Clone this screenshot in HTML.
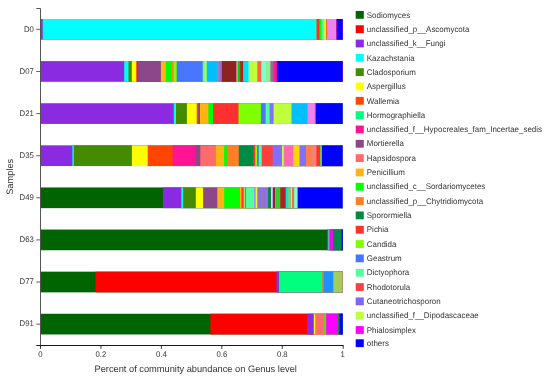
<!DOCTYPE html><html><head><meta charset="utf-8"><title>Community barplot</title><style>html,body{margin:0;padding:0;background:#fff}svg{display:block}text{text-rendering:geometricPrecision;font-family:"Liberation Sans",Arial,sans-serif;fill:#333333}</style></head><body>
<svg width="550" height="381" viewBox="0 0 550 381">
<rect width="550" height="381" fill="#fff"/>
<rect x="40.50" y="19.00" width="302.20" height="20.70" fill="#8A2BE2"/>
<rect x="42.70" y="19.00" width="300.00" height="20.70" fill="#00FFFF"/>
<rect x="316.40" y="19.00" width="26.30" height="20.70" fill="#FF4500"/>
<rect x="317.00" y="19.00" width="25.70" height="20.70" fill="#FF3030"/>
<rect x="319.50" y="19.00" width="23.20" height="20.70" fill="#00FF00"/>
<rect x="321.60" y="19.00" width="21.10" height="20.70" fill="#54FF9F"/>
<rect x="323.90" y="19.00" width="18.80" height="20.70" fill="#C0FF3E"/>
<rect x="326.20" y="19.00" width="16.50" height="20.70" fill="#FF4500"/>
<rect x="326.90" y="19.00" width="15.80" height="20.70" fill="#EE82EE"/>
<rect x="336.10" y="19.00" width="6.60" height="20.70" fill="#FF1493"/>
<rect x="336.70" y="19.00" width="6.00" height="20.70" fill="#0000FF"/>
<rect x="40.50" y="61.11" width="302.20" height="20.70" fill="#8A2BE2"/>
<rect x="124.20" y="61.11" width="218.50" height="20.70" fill="#00FFFF"/>
<rect x="128.50" y="61.11" width="214.20" height="20.70" fill="#458B00"/>
<rect x="131.80" y="61.11" width="210.90" height="20.70" fill="#FFFF00"/>
<rect x="136.40" y="61.11" width="206.30" height="20.70" fill="#FF0000"/>
<rect x="137.50" y="61.11" width="205.20" height="20.70" fill="#8B4789"/>
<rect x="160.90" y="61.11" width="181.80" height="20.70" fill="#FFB414"/>
<rect x="165.80" y="61.11" width="176.90" height="20.70" fill="#00FF00"/>
<rect x="171.50" y="61.11" width="171.20" height="20.70" fill="#FF7F24"/>
<rect x="173.60" y="61.11" width="169.10" height="20.70" fill="#7FFF00"/>
<rect x="176.70" y="61.11" width="166.00" height="20.70" fill="#4876FF"/>
<rect x="202.70" y="61.11" width="140.00" height="20.70" fill="#54FF9F"/>
<rect x="204.50" y="61.11" width="138.20" height="20.70" fill="#C0FF3E"/>
<rect x="206.70" y="61.11" width="136.00" height="20.70" fill="#00BFFF"/>
<rect x="216.90" y="61.11" width="125.80" height="20.70" fill="#B080B0"/>
<rect x="218.70" y="61.11" width="124.00" height="20.70" fill="#9370DB"/>
<rect x="221.80" y="61.11" width="120.90" height="20.70" fill="#8B2323"/>
<rect x="236.40" y="61.11" width="106.30" height="20.70" fill="#FFB6C1"/>
<rect x="237.60" y="61.11" width="105.10" height="20.70" fill="#00CD00"/>
<rect x="240.20" y="61.11" width="102.50" height="20.70" fill="#B22222"/>
<rect x="243.10" y="61.11" width="99.60" height="20.70" fill="#00E5EE"/>
<rect x="248.50" y="61.11" width="94.20" height="20.70" fill="#7FFFD4"/>
<rect x="249.60" y="61.11" width="93.10" height="20.70" fill="#C0FF3E"/>
<rect x="257.30" y="61.11" width="85.40" height="20.70" fill="#FF6347"/>
<rect x="261.30" y="61.11" width="81.40" height="20.70" fill="#7FFFD4"/>
<rect x="266.00" y="61.11" width="76.70" height="20.70" fill="#90EE90"/>
<rect x="270.40" y="61.11" width="72.30" height="20.70" fill="#9A6A9A"/>
<rect x="273.60" y="61.11" width="69.10" height="20.70" fill="#FF1493"/>
<rect x="276.90" y="61.11" width="65.80" height="20.70" fill="#0000FF"/>
<rect x="40.50" y="103.22" width="302.20" height="20.70" fill="#8A2BE2"/>
<rect x="173.80" y="103.22" width="168.90" height="20.70" fill="#00FFFF"/>
<rect x="176.00" y="103.22" width="166.70" height="20.70" fill="#458B00"/>
<rect x="186.90" y="103.22" width="155.80" height="20.70" fill="#FFFF00"/>
<rect x="196.70" y="103.22" width="146.00" height="20.70" fill="#FF4500"/>
<rect x="198.20" y="103.22" width="144.50" height="20.70" fill="#8B4789"/>
<rect x="200.00" y="103.22" width="142.70" height="20.70" fill="#FFB414"/>
<rect x="208.40" y="103.22" width="134.30" height="20.70" fill="#00FF00"/>
<rect x="213.10" y="103.22" width="129.60" height="20.70" fill="#FF3030"/>
<rect x="238.50" y="103.22" width="104.20" height="20.70" fill="#7FFF00"/>
<rect x="260.90" y="103.22" width="81.80" height="20.70" fill="#4876FF"/>
<rect x="265.60" y="103.22" width="77.10" height="20.70" fill="#54FF9F"/>
<rect x="269.60" y="103.22" width="73.10" height="20.70" fill="#836FFF"/>
<rect x="273.60" y="103.22" width="69.10" height="20.70" fill="#C0FF3E"/>
<rect x="291.50" y="103.22" width="51.20" height="20.70" fill="#00BFFF"/>
<rect x="307.50" y="103.22" width="35.20" height="20.70" fill="#EE82EE"/>
<rect x="314.90" y="103.22" width="27.80" height="20.70" fill="#FF1493"/>
<rect x="315.40" y="103.22" width="27.30" height="20.70" fill="#00FF00"/>
<rect x="315.80" y="103.22" width="26.90" height="20.70" fill="#0000FF"/>
<rect x="40.50" y="145.33" width="302.20" height="20.70" fill="#8A2BE2"/>
<rect x="72.40" y="145.33" width="270.30" height="20.70" fill="#00FFFF"/>
<rect x="73.80" y="145.33" width="268.90" height="20.70" fill="#458B00"/>
<rect x="131.90" y="145.33" width="210.80" height="20.70" fill="#FFFF00"/>
<rect x="147.70" y="145.33" width="195.00" height="20.70" fill="#FF4500"/>
<rect x="172.60" y="145.33" width="170.10" height="20.70" fill="#FF1493"/>
<rect x="195.90" y="145.33" width="146.80" height="20.70" fill="#8B4789"/>
<rect x="200.30" y="145.33" width="142.40" height="20.70" fill="#FF6A6A"/>
<rect x="215.90" y="145.33" width="126.80" height="20.70" fill="#FFB414"/>
<rect x="224.10" y="145.33" width="118.60" height="20.70" fill="#00FF00"/>
<rect x="226.80" y="145.33" width="115.90" height="20.70" fill="#FF7F24"/>
<rect x="238.80" y="145.33" width="103.90" height="20.70" fill="#008B45"/>
<rect x="253.40" y="145.33" width="89.30" height="20.70" fill="#FF3030"/>
<rect x="255.20" y="145.33" width="87.50" height="20.70" fill="#7FFF00"/>
<rect x="257.00" y="145.33" width="85.70" height="20.70" fill="#4876FF"/>
<rect x="258.80" y="145.33" width="83.90" height="20.70" fill="#54FF9F"/>
<rect x="261.70" y="145.33" width="81.00" height="20.70" fill="#FF4040"/>
<rect x="272.70" y="145.33" width="70.00" height="20.70" fill="#836FFF"/>
<rect x="282.00" y="145.33" width="60.70" height="20.70" fill="#C0FF3E"/>
<rect x="283.80" y="145.33" width="58.90" height="20.70" fill="#FF69B4"/>
<rect x="293.30" y="145.33" width="49.40" height="20.70" fill="#FFD700"/>
<rect x="299.50" y="145.33" width="43.20" height="20.70" fill="#836FFF"/>
<rect x="306.00" y="145.33" width="36.70" height="20.70" fill="#FF7F50"/>
<rect x="311.50" y="145.33" width="31.20" height="20.70" fill="#FA8072"/>
<rect x="316.40" y="145.33" width="26.30" height="20.70" fill="#FF3030"/>
<rect x="320.00" y="145.33" width="22.70" height="20.70" fill="#32CD32"/>
<rect x="320.60" y="145.33" width="22.10" height="20.70" fill="#D2B48C"/>
<rect x="321.80" y="145.33" width="20.90" height="20.70" fill="#0000FF"/>
<rect x="40.50" y="187.44" width="302.20" height="20.70" fill="#006400"/>
<rect x="162.90" y="187.44" width="179.80" height="20.70" fill="#8A2BE2"/>
<rect x="181.30" y="187.44" width="161.40" height="20.70" fill="#00FFFF"/>
<rect x="183.10" y="187.44" width="159.60" height="20.70" fill="#458B00"/>
<rect x="195.80" y="187.44" width="146.90" height="20.70" fill="#FFFF00"/>
<rect x="203.10" y="187.44" width="139.60" height="20.70" fill="#8B4789"/>
<rect x="217.30" y="187.44" width="125.40" height="20.70" fill="#FFB414"/>
<rect x="224.20" y="187.44" width="118.50" height="20.70" fill="#00FF00"/>
<rect x="240.00" y="187.44" width="102.70" height="20.70" fill="#FFB414"/>
<rect x="241.50" y="187.44" width="101.20" height="20.70" fill="#FF3030"/>
<rect x="243.70" y="187.44" width="99.00" height="20.70" fill="#C0FF3E"/>
<rect x="244.80" y="187.44" width="97.90" height="20.70" fill="#4876FF"/>
<rect x="245.90" y="187.44" width="96.80" height="20.70" fill="#54FF9F"/>
<rect x="254.00" y="187.44" width="88.70" height="20.70" fill="#9A9AE8"/>
<rect x="255.70" y="187.44" width="87.00" height="20.70" fill="#E6FF20"/>
<rect x="257.30" y="187.44" width="85.40" height="20.70" fill="#9370DB"/>
<rect x="268.10" y="187.44" width="74.60" height="20.70" fill="#008B45"/>
<rect x="271.00" y="187.44" width="71.70" height="20.70" fill="#C0FF3E"/>
<rect x="272.00" y="187.44" width="70.70" height="20.70" fill="#C8A8E8"/>
<rect x="273.00" y="187.44" width="69.70" height="20.70" fill="#8B2323"/>
<rect x="275.20" y="187.44" width="67.50" height="20.70" fill="#C8A8E8"/>
<rect x="275.80" y="187.44" width="66.90" height="20.70" fill="#32CD32"/>
<rect x="280.30" y="187.44" width="62.40" height="20.70" fill="#B22222"/>
<rect x="285.70" y="187.44" width="57.00" height="20.70" fill="#00E5EE"/>
<rect x="288.10" y="187.44" width="54.60" height="20.70" fill="#7CCD7C"/>
<rect x="291.00" y="187.44" width="51.70" height="20.70" fill="#C0FF3E"/>
<rect x="292.10" y="187.44" width="50.60" height="20.70" fill="#FF6347"/>
<rect x="294.10" y="187.44" width="48.60" height="20.70" fill="#7FFFD4"/>
<rect x="297.60" y="187.44" width="45.10" height="20.70" fill="#0000FF"/>
<rect x="40.50" y="229.55" width="302.30" height="20.70" fill="#006400"/>
<rect x="326.90" y="229.55" width="15.90" height="20.70" fill="#8A2BE2"/>
<rect x="328.40" y="229.55" width="14.40" height="20.70" fill="#54FF9F"/>
<rect x="329.50" y="229.55" width="13.30" height="20.70" fill="#006400"/>
<rect x="330.10" y="229.55" width="12.70" height="20.70" fill="#FF00FF"/>
<rect x="332.90" y="229.55" width="9.90" height="20.70" fill="#008B45"/>
<rect x="341.60" y="229.55" width="1.20" height="20.70" fill="#0000FF"/>
<rect x="40.50" y="271.66" width="302.20" height="20.70" fill="#006400"/>
<rect x="95.50" y="271.66" width="247.20" height="20.70" fill="#FF0000"/>
<rect x="276.40" y="271.66" width="66.30" height="20.70" fill="#8A2BE2"/>
<rect x="278.90" y="271.66" width="63.80" height="20.70" fill="#00FF7F"/>
<rect x="322.30" y="271.66" width="20.40" height="20.70" fill="#FF6347"/>
<rect x="323.90" y="271.66" width="18.80" height="20.70" fill="#1E90FF"/>
<rect x="333.30" y="271.66" width="9.40" height="20.70" fill="#A2CD5A"/>
<rect x="342.20" y="271.66" width="0.50" height="20.70" fill="#FF6347"/>
<rect x="40.50" y="313.77" width="302.20" height="20.70" fill="#006400"/>
<rect x="210.40" y="313.77" width="132.30" height="20.70" fill="#FF0000"/>
<rect x="307.00" y="313.77" width="35.70" height="20.70" fill="#8A2BE2"/>
<rect x="313.80" y="313.77" width="28.90" height="20.70" fill="#FFFF00"/>
<rect x="315.20" y="313.77" width="27.50" height="20.70" fill="#FF7F50"/>
<rect x="315.80" y="313.77" width="26.90" height="20.70" fill="#FF6A6A"/>
<rect x="324.10" y="313.77" width="18.60" height="20.70" fill="#50E020"/>
<rect x="326.10" y="313.77" width="16.60" height="20.70" fill="#FF00FF"/>
<rect x="337.90" y="313.77" width="4.80" height="20.70" fill="#008B45"/>
<rect x="339.50" y="313.77" width="3.20" height="20.70" fill="#0000FF"/>
<path d="M36.3 8.5H40.5V345.5" fill="none" stroke="#4d4d4d" stroke-width="0.95"/>
<path d="M36.3 345.5H343.6" fill="none" stroke="#1a1a1a" stroke-width="1.2"/>
<path d="M343.2 345.5V348.8" fill="none" stroke="#1a1a1a" stroke-width="0.9"/>
<path d="M36.3 29.35H40.5" stroke="#4d4d4d" stroke-width="0.9"/>
<text transform="translate(33.80 31.65) scale(0.945 1)" font-size="8.2" text-anchor="end">D0</text>
<path d="M36.3 71.46H40.5" stroke="#4d4d4d" stroke-width="0.9"/>
<text transform="translate(33.80 73.76) scale(0.945 1)" font-size="8.2" text-anchor="end">D07</text>
<path d="M36.3 113.57H40.5" stroke="#4d4d4d" stroke-width="0.9"/>
<text transform="translate(33.80 115.87) scale(0.945 1)" font-size="8.2" text-anchor="end">D21</text>
<path d="M36.3 155.68H40.5" stroke="#4d4d4d" stroke-width="0.9"/>
<text transform="translate(33.80 157.98) scale(0.945 1)" font-size="8.2" text-anchor="end">D35</text>
<path d="M36.3 197.79H40.5" stroke="#4d4d4d" stroke-width="0.9"/>
<text transform="translate(33.80 200.09) scale(0.945 1)" font-size="8.2" text-anchor="end">D49</text>
<path d="M36.3 239.90H40.5" stroke="#4d4d4d" stroke-width="0.9"/>
<text transform="translate(33.80 242.20) scale(0.945 1)" font-size="8.2" text-anchor="end">D63</text>
<path d="M36.3 282.01H40.5" stroke="#4d4d4d" stroke-width="0.9"/>
<text transform="translate(33.80 284.31) scale(0.945 1)" font-size="8.2" text-anchor="end">D77</text>
<path d="M36.3 324.12H40.5" stroke="#4d4d4d" stroke-width="0.9"/>
<text transform="translate(33.80 326.42) scale(0.945 1)" font-size="8.2" text-anchor="end">D91</text>
<path d="M40.50 345.5V348.8" stroke="#1a1a1a" stroke-width="0.9"/>
<text transform="translate(40.50 356.50) scale(0.945 1)" font-size="8.2" text-anchor="middle">0</text>
<path d="M100.94 345.5V348.8" stroke="#1a1a1a" stroke-width="0.9"/>
<text transform="translate(100.94 356.50) scale(0.945 1)" font-size="8.2" text-anchor="middle">0.2</text>
<path d="M161.38 345.5V348.8" stroke="#1a1a1a" stroke-width="0.9"/>
<text transform="translate(161.38 356.50) scale(0.945 1)" font-size="8.2" text-anchor="middle">0.4</text>
<path d="M221.82 345.5V348.8" stroke="#1a1a1a" stroke-width="0.9"/>
<text transform="translate(221.82 356.50) scale(0.945 1)" font-size="8.2" text-anchor="middle">0.6</text>
<path d="M282.26 345.5V348.8" stroke="#1a1a1a" stroke-width="0.9"/>
<text transform="translate(282.26 356.50) scale(0.945 1)" font-size="8.2" text-anchor="middle">0.8</text>
<text transform="translate(342.70 356.50) scale(0.945 1)" font-size="8.2" text-anchor="middle">1</text>
<text transform="translate(195.70 372.00) scale(0.988 1)" font-size="9.4" text-anchor="middle">Percent of community abundance on Genus level</text>
<text transform="translate(12.60 176.80) rotate(-90) scale(0.988 1)" font-size="9.4" text-anchor="middle">Samples</text>
<rect x="355.7" y="10.95" width="8.1" height="7.8" fill="#006400"/>
<text transform="translate(366.80 17.55) scale(0.972 1)" font-size="8.2">Sodiomyces</text>
<rect x="355.7" y="25.27" width="8.1" height="7.8" fill="#FF0000"/>
<text transform="translate(366.80 31.87) scale(0.972 1)" font-size="8.2">unclassified_p__Ascomycota</text>
<rect x="355.7" y="39.60" width="8.1" height="7.8" fill="#8A2BE2"/>
<text transform="translate(366.80 46.20) scale(0.972 1)" font-size="8.2">unclassified_k__Fungi</text>
<rect x="355.7" y="53.92" width="8.1" height="7.8" fill="#00FFFF"/>
<text transform="translate(366.80 60.52) scale(0.972 1)" font-size="8.2">Kazachstania</text>
<rect x="355.7" y="68.25" width="8.1" height="7.8" fill="#458B00"/>
<text transform="translate(366.80 74.85) scale(0.972 1)" font-size="8.2">Cladosporium</text>
<rect x="355.7" y="82.57" width="8.1" height="7.8" fill="#FFFF00"/>
<text transform="translate(366.80 89.17) scale(0.972 1)" font-size="8.2">Aspergillus</text>
<rect x="355.7" y="96.90" width="8.1" height="7.8" fill="#FF4500"/>
<text transform="translate(366.80 103.50) scale(0.972 1)" font-size="8.2">Wallemia</text>
<rect x="355.7" y="111.22" width="8.1" height="7.8" fill="#00FF7F"/>
<text transform="translate(366.80 117.82) scale(0.972 1)" font-size="8.2">Hormographiella</text>
<rect x="355.7" y="125.55" width="8.1" height="7.8" fill="#FF1493"/>
<text transform="translate(366.80 132.15) scale(0.972 1)" font-size="8.2">unclassified_f__Hypocreales_fam_Incertae_sedis</text>
<rect x="355.7" y="139.87" width="8.1" height="7.8" fill="#8B4789"/>
<text transform="translate(366.80 146.47) scale(0.972 1)" font-size="8.2">Mortierella</text>
<rect x="355.7" y="154.20" width="8.1" height="7.8" fill="#FF6A6A"/>
<text transform="translate(366.80 160.80) scale(0.972 1)" font-size="8.2">Hapsidospora</text>
<rect x="355.7" y="168.52" width="8.1" height="7.8" fill="#FFB414"/>
<text transform="translate(366.80 175.12) scale(0.972 1)" font-size="8.2">Penicillium</text>
<rect x="355.7" y="182.85" width="8.1" height="7.8" fill="#00FF00"/>
<text transform="translate(366.80 189.45) scale(0.972 1)" font-size="8.2">unclassified_c__Sordariomycetes</text>
<rect x="355.7" y="197.17" width="8.1" height="7.8" fill="#FF7F24"/>
<text transform="translate(366.80 203.77) scale(0.972 1)" font-size="8.2">unclassified_p__Chytridiomycota</text>
<rect x="355.7" y="211.50" width="8.1" height="7.8" fill="#008B45"/>
<text transform="translate(366.80 218.10) scale(0.972 1)" font-size="8.2">Sporormiella</text>
<rect x="355.7" y="225.82" width="8.1" height="7.8" fill="#FF3030"/>
<text transform="translate(366.80 232.42) scale(0.972 1)" font-size="8.2">Pichia</text>
<rect x="355.7" y="240.15" width="8.1" height="7.8" fill="#7FFF00"/>
<text transform="translate(366.80 246.75) scale(0.972 1)" font-size="8.2">Candida</text>
<rect x="355.7" y="254.47" width="8.1" height="7.8" fill="#4876FF"/>
<text transform="translate(366.80 261.07) scale(0.972 1)" font-size="8.2">Geastrum</text>
<rect x="355.7" y="268.80" width="8.1" height="7.8" fill="#54FF9F"/>
<text transform="translate(366.80 275.40) scale(0.972 1)" font-size="8.2">Dictyophora</text>
<rect x="355.7" y="283.13" width="8.1" height="7.8" fill="#FF4040"/>
<text transform="translate(366.80 289.73) scale(0.972 1)" font-size="8.2">Rhodotorula</text>
<rect x="355.7" y="297.45" width="8.1" height="7.8" fill="#7B68EE"/>
<text transform="translate(366.80 304.05) scale(0.972 1)" font-size="8.2">Cutaneotrichosporon</text>
<rect x="355.7" y="311.78" width="8.1" height="7.8" fill="#C0FF3E"/>
<text transform="translate(366.80 318.38) scale(0.972 1)" font-size="8.2">unclassified_f__Dipodascaceae</text>
<rect x="355.7" y="326.10" width="8.1" height="7.8" fill="#FF00FF"/>
<text transform="translate(366.80 332.70) scale(0.972 1)" font-size="8.2">Phialosimplex</text>
<rect x="355.7" y="339.30" width="8.1" height="7.8" fill="#0000FF"/>
<text transform="translate(366.80 345.90) scale(0.972 1)" font-size="8.2">others</text>
</svg></body></html>
